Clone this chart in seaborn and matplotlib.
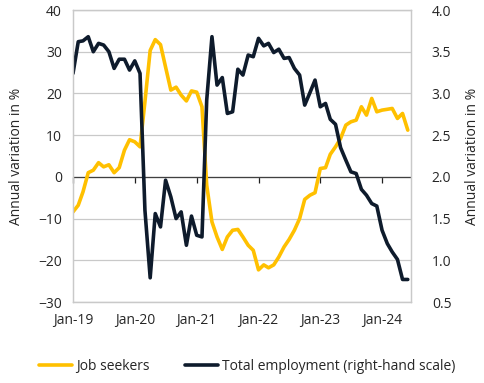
import numpy as np
import pandas as pd
import matplotlib
matplotlib.use('Agg')
import matplotlib.pyplot as plt
import matplotlib.dates as mdates
import seaborn as sns

# monthly data, Jan-2019 .. Jun-2024
dates = pd.date_range('2019-01-01', periods=66, freq='MS')

job_seekers = [
    -8.4, -6.8, -3.6, 1.0, 1.6, 3.4, 2.4, 2.9, 1.0, 2.2, 6.4, 8.9,
    8.4, 7.2, 18.0, 30.3, 32.9, 31.7, 26.3, 20.8, 21.5, 19.6, 18.2, 20.6,
    20.3, 16.8, -2.0, -10.8, -14.4, -17.4, -14.4, -12.8, -12.6, -14.4, -16.4, -17.6,
    -22.3, -21.1, -21.8, -21.1, -19.2, -16.8, -15.0, -12.8, -10.0, -5.4, -4.4, -3.8,
    2.0, 2.2, 5.4, 7.2, 9.2, 12.4, 13.2, 13.6, 16.8, 14.8, 18.8, 15.6,
    16.0, 16.2, 16.4, 14.0, 15.2, 11.2,
]

total_employment = [
    3.24, 3.62, 3.63, 3.68, 3.50, 3.60, 3.58, 3.50, 3.30, 3.41, 3.41, 3.28,
    3.39, 3.24, 1.60, 0.79, 1.56, 1.40, 1.96, 1.76, 1.50, 1.58, 1.18, 1.53,
    1.30, 1.28, 2.92, 3.68, 3.10, 3.19, 2.76, 2.78, 3.29, 3.22, 3.46, 3.44,
    3.66, 3.57, 3.60, 3.49, 3.53, 3.42, 3.43, 3.30, 3.22, 2.86, 3.01, 3.16,
    2.84, 2.88, 2.69, 2.63, 2.35, 2.20, 2.06, 2.04, 1.85, 1.78, 1.68, 1.65,
    1.36, 1.20, 1.10, 1.01, 0.77, 0.77,
]

left_ticks = [-30, -20, -10, 0, 10, 20, 30, 40]
right_ticks = [0.5, 1.0, 1.5, 2.0, 2.5, 3.0, 3.5, 4.0]
year_ticks = pd.date_range('2019-01-01', periods=6, freq='YS')

YELLOW = '#FFC000'
NAVY = '#0E1B2C'
GRID = '#C9C9C9'
TEXT = '#262626'

sns.set_style('white')
plt.rcParams['font.family'] = ['Open Sans', 'DejaVu Sans']
plt.rcParams['font.size'] = 10

fig = plt.figure(figsize=(4.85, 3.83), dpi=100)
ax = fig.add_axes([73 / 485, 1 - 302 / 383, 338 / 485, 292 / 383])

sns.lineplot(x=dates, y=job_seekers, ax=ax, color=YELLOW, lw=2.6,
             label='Job seekers', legend=False)
ax.set_ylim(-30, 40)
ax.set_yticks(left_ticks)
ax.set_xlim(dates[0], pd.Timestamp('2024-06-20'))
ax.set_xticks(year_ticks)
ax.xaxis.set_major_formatter(mdates.DateFormatter('%b-%y'))
ax.tick_params(axis='x', length=0, pad=8, colors=TEXT)
ax.tick_params(axis='y', length=0, pad=8, colors=TEXT)
ax.grid(axis='y', color=GRID, lw=0.9)
ax.set_axisbelow(True)
for s in ax.spines.values():
    s.set_color(GRID)
    s.set_linewidth(0.9)
ax.set_ylabel('Annual variation in %', color=TEXT, labelpad=10)
ax.set_xlabel('')

# zero line with the year tick marks
ax.axhline(0, color='#404040', lw=0.9, zorder=1.5)
sec = ax.secondary_xaxis(3 / 7)
sec.set_xticks(mdates.date2num(year_ticks))
sec.tick_params(direction='out', length=4, width=0.9, color='#202020',
                labelbottom=False)
sec.spines['bottom'].set_visible(False)

ax2 = ax.twinx()
sns.lineplot(x=dates, y=total_employment, ax=ax2, color=NAVY, lw=2.6,
             label='Total employment (right-hand scale)', legend=False)
ax2.set_ylim(0.5, 4.0)
ax2.set_yticks(right_ticks)
ax2.yaxis.set_major_formatter(matplotlib.ticker.FormatStrFormatter('%.1f'))
ax2.tick_params(axis='y', length=0, pad=15, colors=TEXT)
ax2.grid(False)
for s in ax2.spines.values():
    s.set_color(GRID)
    s.set_linewidth(0.9)
ax2.set_ylabel('Annual variation in %', color=TEXT, labelpad=10, rotation=90)

handles = ax.get_lines()[:1] + ax2.get_lines()[:1]
fig.legend(handles, [h.get_label() for h in handles], loc='lower center',
           bbox_to_anchor=(0.51, -0.01), ncol=2, frameon=False,
           handlelength=2.4, handletextpad=0.3, columnspacing=2.5,
           labelcolor=TEXT)

fig.savefig('out.png', dpi=100)
